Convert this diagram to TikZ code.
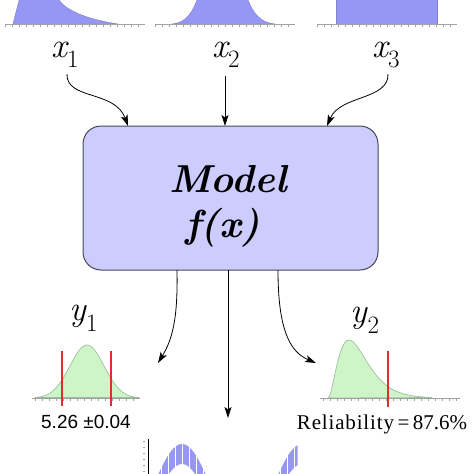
\documentclass[tikz,border=0pt]{standalone}
\usepackage{fontspec}
\newfontfamily\timesf{Liberation Serif}
\newfontfamily\sansf{Liberation Sans}
\usetikzlibrary{arrows.meta}
\definecolor{boxfill}{RGB}{204,204,255}
\definecolor{boxline}{RGB}{70,70,90}
\definecolor{distblue}{RGB}{150,150,245}
\definecolor{distgreen}{RGB}{205,245,200}
\definecolor{greenline}{RGB}{160,190,160}
\definecolor{redl}{RGB}{225,45,45}
\definecolor{axisgray}{RGB}{160,160,160}
\begin{document}
\begin{tikzpicture}[x=1pt,y=-1pt,
  arr/.style={draw=black, line width=0.8pt, -{Stealth[length=11pt,width=7pt,inset=2.5pt]}},
  axisline/.style={draw=axisgray, line width=0.8pt},
  tickmark/.style={draw=axisgray, line width=0.5pt},
  varlab/.style={font=\fontsize{35}{35}\selectfont\itshape, anchor=base, inner sep=0pt},
  modelbox/.style={draw=boxline, fill=boxfill, line width=1pt, rounded corners=18pt, minimum width=295pt, minimum height=144pt, inner sep=0pt},
  modeltext/.style={font=\fontsize{39}{39}\selectfont\bfseries\itshape, anchor=base, inner sep=0pt},
  bluefill/.style={fill=distblue, draw=distblue!85!black, line width=0.4pt},
  greenfill/.style={fill=distgreen, draw=greenline, line width=0.7pt},
  redline/.style={draw=redl, line width=1.4pt}]
\useasboundingbox (0,0) rectangle (474,474);
\clip (0,0) rectangle (474,474);

% ---- top input distributions ----
\filldraw[bluefill] (13,24) .. controls (16,12) and (18,4) .. (20,-3) -- (57,-3) .. controls (63,8) and (80,18) .. (118,24) -- cycle;
\filldraw[bluefill] (172,24) .. controls (186,23) and (193,12) .. (198,-3) -- (247,-3) .. controls (252,12) and (260,23) .. (275,24) -- cycle;
\filldraw[bluefill] (336,24) rectangle (437,-3);
\foreach \a/\b in {5/145,155/295,317/457}{
  \draw[axisline] (\a,24) -- (\b,24);
  \foreach \t in {0,7,...,140}{
    \pgfmathsetmacro{\tx}{\a+\t}
    \ifdim\tx pt<\b pt \draw[tickmark] (\tx,24.5) -- (\tx,26.5);\fi
  }
}

% ---- input labels ----
\node[varlab] (x1) at (65,57) {x\raisebox{-10pt}{\fontsize{25}{25}\selectfont\upshape 1}};
\node[varlab] (x2) at (226,57) {x\raisebox{-10pt}{\fontsize{25}{25}\selectfont\upshape 2}};
\node[varlab] (x3) at (386,57) {x\raisebox{-10pt}{\fontsize{25}{25}\selectfont\upshape 3}};

% ---- model box ----
\node[modelbox] (model) at (230.5,198) {};
\node[modeltext] (mname) at (228,192) {Model};
\node[modeltext] (mfunc) at (222.5,237) {f(x)};

% ---- connector end points ----
\coordinate (s1) at (67,74);
\coordinate (s2) at (225,76);
\coordinate (s3) at (388,74);
\coordinate (t1) at (128,126);
\coordinate (t2) at (225,126);
\coordinate (t3) at (327,126);
\coordinate (b1) at (177,270);
\coordinate (b2) at (228,270);
\coordinate (b3) at (278,270);
\coordinate (e1) at (158,363);
\coordinate (e2) at (228,418);
\coordinate (e3) at (316,363);

\draw[arr] (s1) .. controls (66,100) and (115,90) .. (t1);
\draw[arr] (s2) -- (t2);
\draw[arr] (s3) .. controls (389,100) and (340,95) .. (t3);
\draw[arr] (b1) .. controls (178,320) and (172,340) .. (e1);
\draw[arr] (b2) -- (e2);
\draw[arr] (b3) .. controls (278,330) and (290,352) .. (e3);

% ---- output y1 ----
\node[varlab] (y1) at (83.5,320) {y\raisebox{-11pt}{\fontsize{25}{25}\selectfont\upshape 1}};
\filldraw[greenfill] plot[domain=35:139,samples=70] (\x,{398-53*exp(-((\x-87)*(\x-87))/578)}) -- cycle;
\draw[axisline] (32,398) -- (140,398);
\foreach \t in {35,42,...,139} \draw[tickmark] (\t,398.5) -- (\t,400.5);
\draw[redline] (62,351) -- (62,406);
\draw[redline] (111,351) -- (111,406);
\node[font=\sansf\fontsize{19}{19}\selectfont, anchor=base, inner sep=0pt] (y1val) at (86,428) {5.26 ±0.04};

% ---- output y2 ----
\node[varlab] (y2) at (365,322) {y\raisebox{-11pt}{\fontsize{25}{25}\selectfont\upshape 2}};
\filldraw[greenfill] plot[domain=0:104,samples=90] ({328+\x},{398-58*(\x/21)*(\x/21)*exp(-(\x-21)/10.5)}) -- cycle;
\draw[axisline] (320,398) -- (460,398);
\foreach \t in {323,330,...,458} \draw[tickmark] (\t,398.5) -- (\t,400.5);
\draw[redline] (388,351) -- (388,407);
\node[anchor=base, inner sep=0pt, font=\timesf\fontsize{21}{21}\selectfont] (y2val) at (382,429) {{\addfontfeatures{LetterSpace=4}Reliability}\,=\,87.6\%};

% ---- bottom output band ----
\begin{scope}
  \clip (150,436) rectangle (297.5,474);
  \fill[distblue] plot[domain=150:300,samples=120] (\x,{444+45*(1-cos(3*(\x-182)))})
     -- plot[domain=300:150,samples=120] (\x,{464+45*(1-cos(3*(\x-182)))}) -- cycle;
  \foreach \t in {154,161,...,300} \draw[white, line width=0.5pt] (\t,436) -- (\t,474);
\end{scope}
\draw[black, line width=1pt] (148,439) -- (148,474);
\foreach \t in {441,447,...,474} \draw[tickmark] (143,\t) -- (145,\t);
\end{tikzpicture}
\end{document}
